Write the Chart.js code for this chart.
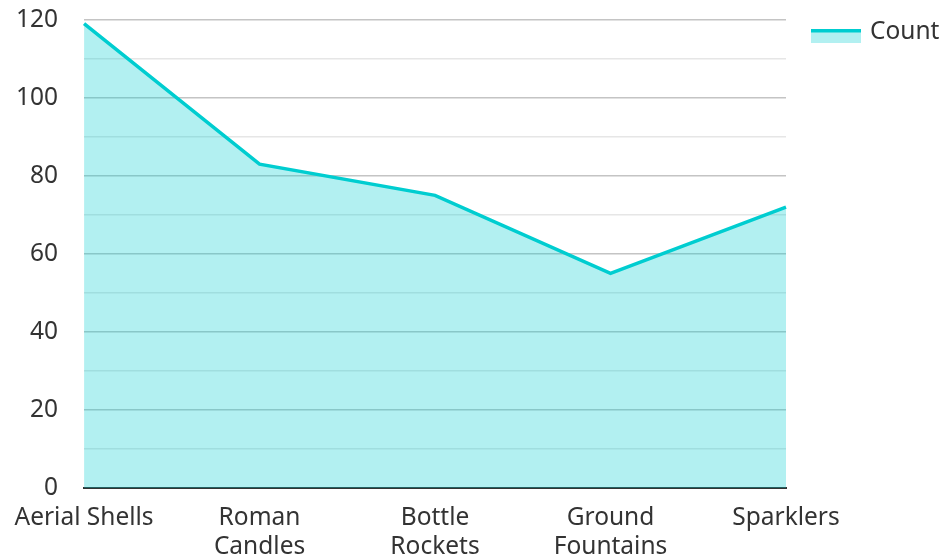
<!DOCTYPE html>
<html>
<head>
<meta charset="utf-8">
<script src="https://cdn.jsdelivr.net/npm/chart.js@4"></script>
<style>
    html, body { margin: 0; padding: 0; background: #fff; }
    #wrap { width: 944px; height: 558px; }
</style>
</head>
<body>
<div id="wrap"><canvas id="lineChart"></canvas></div>
<script>
var categories = [['Aerial Shells'], ['Roman', 'Candles'], ['Bottle', 'Rockets'], ['Ground', 'Fountains'], ['Sparklers']];
var seriesName = 'Count';
var countValues = [119, 83, 75, 55, 72];
var yTicks = [0, 20, 40, 60, 80, 100, 120];

var lineColor = '#00cdd0';
var fillColor = 'rgba(0, 205, 208, 0.3)';
var fontFamily = 'Noto Sans';
var fontSize = 24.5;

// legend drawn by hand, to the right of the plot
var legendPlugin = {
    id: 'sideLegend',
    afterDraw: function (chart) {
        var ctx = chart.ctx;
        var x = chart.chartArea.right + 25;
        var y = 29;
        ctx.save();
        ctx.fillStyle = fillColor;
        ctx.fillRect(x, y, 50, 14);
        ctx.fillStyle = lineColor;
        ctx.fillRect(x, y, 50, 3.5);
        ctx.fillStyle = '#333';
        ctx.font = fontSize + 'px "' + fontFamily + '"';
        ctx.textBaseline = 'middle';
        ctx.textAlign = 'left';
        ctx.fillText(seriesName, x + 59, y + 3);
        ctx.restore();
    }
};

function Charts() {
    var ctx = document.getElementById('lineChart').getContext('2d');
    var data = {
        labels: categories,
        datasets: [
            {
                label: seriesName,
                data: countValues,
                borderColor: lineColor,
                backgroundColor: fillColor,
                borderWidth: 3.5,
                fill: 'origin',
                tension: 0,
                pointRadius: 0,
                pointHoverRadius: 0
            }
        ]
    };
    new Chart(ctx, {
        type: 'line',
        data: data,
        plugins: [legendPlugin],
        options: {
            responsive: true,
            maintainAspectRatio: false,
            animation: false,
            layout: { padding: { left: 11, right: 158, top: 1, bottom: -5 } },
            plugins: {
                tooltip: { enabled: false },
                legend: { display: false }
            },
            scales: {
                x: {
                    offset: false,
                    grid: {
                        display: true,
                        drawOnChartArea: false,
                        drawTicks: true,
                        tickLength: 13,
                        color: 'transparent',
                        tickColor: 'transparent'
                    },
                    border: { display: true, color: '#333', width: 2 },
                    ticks: {
                        font: { family: fontFamily, size: fontSize, lineHeight: 1.18 },
                        color: '#333',
                        maxRotation: 0,
                        autoSkip: false,
                        padding: 2
                    }
                },
                y: {
                    min: 0,
                    max: 120,
                    border: { display: false },
                    grid: {
                        drawTicks: true,
                        tickLength: 21,
                        tickColor: 'transparent',
                        color: function (c) {
                            var v = c.tick ? c.tick.value : 0;
                            return yTicks.indexOf(v) >= 0 ? '#c4c4c4' : '#e6e6e6';
                        },
                        lineWidth: 1.5
                    },
                    ticks: {
                        stepSize: 10,
                        padding: 5,
                        font: { family: fontFamily, size: fontSize },
                        color: '#333',
                        callback: function (v) {
                            return yTicks.indexOf(v) >= 0 ? String(v) : '';
                        }
                    }
                }
            }
        }
    });
}

Charts();
</script>
</body>
</html>
